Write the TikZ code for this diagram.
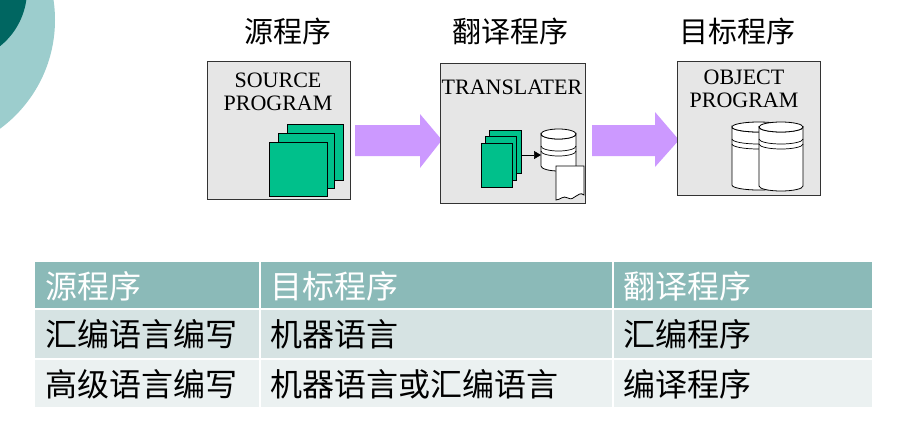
\documentclass[tikz,border=0pt]{standalone}
\usepackage{fontspec}
\setmainfont{Liberation Serif}
\newfontfamily\cjk{Noto Sans CJK SC}
\usetikzlibrary{arrows.meta}
\definecolor{tealL}{HTML}{9CCDCD}
\definecolor{tealD}{HTML}{006661}
\definecolor{hdr}{HTML}{8BBAB8}
\definecolor{rowA}{HTML}{D6E3E3}
\definecolor{rowB}{HTML}{EBF1F1}
\definecolor{pg}{HTML}{00C08B}
\definecolor{boxg}{HTML}{E6E6E6}
\definecolor{arr}{HTML}{CC99FF}
\tikzset{
  panel/.style={draw=black!80,fill=boxg,line width=0.9pt},
  page/.style={draw=black,fill=pg,line width=1pt},
  eng/.style={font=\fontsize{22}{23}\selectfont,align=center,inner sep=0},
  title/.style={font=\cjk\fontsize{29}{30}\selectfont,inner sep=0},
  cell/.style={font=\cjk\fontsize{32}{34}\selectfont,anchor=west,inner sep=0},
  bigarrow/.style={fill=arr,draw=none},
  cyl/.style={draw=black,fill=white,line width=0.8pt}
}
\newcommand{\mycyl}[4]{% x1 x2 ytop ybot
  \pgfmathsetmacro{\cx}{(#1+#2)/2}\pgfmathsetmacro{\rx}{(#2-#1)/2}
  \draw[cyl] (#1,#3) -- (#1,#4) arc[start angle=180,end angle=0,x radius=\rx,y radius=5] -- (#2,#3) arc[start angle=0,end angle=180,x radius=\rx,y radius=5] -- cycle;
  \draw[cyl] (\cx,#3) ellipse[x radius=\rx,y radius=5];
  \draw[line width=0.7pt] (#1,#3+12) arc[start angle=180,end angle=0,x radius=\rx,y radius=5];
  \draw[line width=0.7pt] (#1,#3+17) arc[start angle=180,end angle=0,x radius=\rx,y radius=5];
}
\begin{document}
\begin{tikzpicture}[x=1pt,y=-1pt]
\useasboundingbox (0,0) rectangle (908,440);
\begin{scope}
\clip (0,0) rectangle (908,440);
\fill[tealL] (-80,20) circle[radius=135];
\fill[tealD] (-45,-10) circle[radius=72];
\end{scope}
% titles
\node[title] (t1) at (288,31) {源程序};
\node[title] (t2) at (510,31) {翻译程序};
\node[title] (t3) at (737,31) {目标程序};
% source box
\draw[panel] (207,61) rectangle (350,199);
\node[eng] (s) at (278,92) {SOURCE\\PROGRAM};
\draw[page] (287,124) rectangle (343,180);
\draw[page] (278,133) rectangle (334,188);
\draw[page] (269,142) rectangle (327,196);
% arrow 1
\fill[bigarrow] (355,125) -- (420,125) -- (420,114) -- (442,140) -- (420,168) -- (420,156) -- (355,156) -- cycle;
% translater
\draw[panel] (440,63) rectangle (585,203);
\node[eng] (tr) at (512,87) {TRANSLATER};
\draw[page] (489,130) rectangle (521,173);
\draw[page] (485,136) rectangle (516,180);
\draw[page] (481,143) rectangle (512,187);
\mycyl{541}{576}{134}{166}
\draw[-{Triangle[length=7pt,width=8pt]},line width=0.6pt] (522,155) -- (541,155);
\draw[cyl] (556,166) -- (584,166) -- (584,195) .. controls (578,190) and (574,202) .. (568,198) .. controls (563,195) and (560,200) .. (556,200) -- cycle;
% arrow 2
\fill[bigarrow] (592,125) -- (655,125) -- (655,112) -- (679,140) -- (655,167) -- (655,156) -- (592,156) -- cycle;
% object
\draw[panel] (677,61) rectangle (820,195);
\node[eng] (ob) at (744,89) {OBJECT\\PROGRAM};
\mycyl{732}{785}{127}{185}
\mycyl{759}{803}{127}{186}
% table
\fill[hdr] (35,262) rectangle (872,308);
\fill[rowA] (35,310) rectangle (872,358);
\fill[rowB] (35,360) rectangle (872,407);
\draw[white,line width=2pt] (260,262) -- (260,407) (613,262) -- (613,407);
\node[cell,white] (h1) at (45,286) {源程序};
\node[cell,white] (h2) at (270,286) {目标程序};
\node[cell,white] (h3) at (623,286) {翻译程序};
\node[cell] (a1) at (45,334) {汇编语言编写};
\node[cell] (a2) at (270,334) {机器语言};
\node[cell] (a3) at (623,334) {汇编程序};
\node[cell] (b1) at (45,384) {高级语言编写};
\node[cell] (b2) at (270,384) {机器语言或汇编语言};
\node[cell] (b3) at (623,384) {编译程序};
\end{tikzpicture}
\end{document}
